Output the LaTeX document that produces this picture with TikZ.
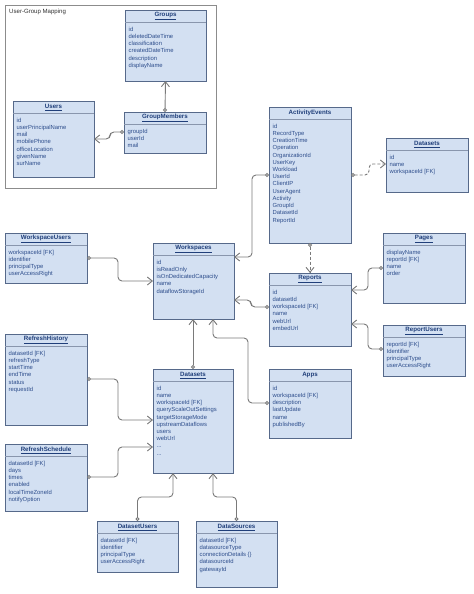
\documentclass[tikz,border=0pt]{standalone}
\usepackage{fontspec}
\setmainfont{Liberation Sans}
\usetikzlibrary{arrows.meta,shadows}
\definecolor{boxfill}{HTML}{D3E0F2}
\definecolor{boxline}{HTML}{56698A}
\definecolor{ttlblue}{HTML}{203F7A}
\definecolor{attrblue}{HTML}{2E4E8C}
\definecolor{linegray}{HTML}{7A7A7A}
\definecolor{framegray}{HTML}{8C8C8C}
\tikzset{
  ent/.style={draw=boxline, fill=boxfill, line width=0.75bp, anchor=north west, inner sep=0pt, outer sep=0pt,
    drop shadow={shadow xshift=1bp, shadow yshift=-1bp, fill=black!45, opacity=0.5}},
  sepline/.style={draw=boxline!70, line width=0.4bp},
  ttl/.style={inner sep=0pt, text=ttlblue, font=\fontsize{6.2}{7}\selectfont\bfseries},
  attr/.style={inner sep=0pt, anchor=north west, align=left, text=attrblue, font=\fontsize{5.9}{7.25}\selectfont},
  conn/.style={draw=linegray, line width=0.9bp, rounded corners=4bp,
    arrows={Circle[open,length=4bp,width=4bp]-Straight Barb[length=5bp,width=8bp]}},
  dconn/.style={conn, dash pattern=on 3bp off 2bp},
}
\newcommand\erbox[7]{%
  \node[ent, minimum width=#4bp, minimum height=#5bp] (#1) at (#2,#3) {};
  \draw[sepline] ([yshift=-12bp]#1.north west) -- ([yshift=-12bp]#1.north east);
  \node[ttl] (#1-t) at ([yshift=-6.2bp]#1.north) {#6};
  \node[attr] (#1-a) at ([xshift=3.5bp,yshift=-16bp]#1.north west) {\rule{0pt}{5bp}#7};
}
\begin{document}
\begin{tikzpicture}[x=1bp,y=-1bp]
\fill[white] (0,0) rectangle (474,594);
\useasboundingbox (0,0) rectangle (474,594);
% group frame
\node[draw=framegray, line width=0.6bp, anchor=north west, minimum width=211bp, minimum height=183bp, inner sep=0pt] (frame) at (5,5) {};
\node[anchor=west, inner sep=0pt, font=\fontsize{6.1}{7}\selectfont, text=black!80] (framelabel) at (9,12) {User-Group Mapping};
% entities
\erbox{Groups}{125}{10}{81}{71}{\underline{Groups}}{id\\deletedDateTime\\classification\\createdDateTime\\description\\displayName}
\erbox{Users}{13}{101}{81}{76}{\underline{Users}}{id\\userPrincipalName\\mail\\mobilePhone\\officeLocation\\givenName\\surName}
\erbox{GroupMembers}{124}{112}{82}{41}{\underline{GroupMembers}}{groupId\\userId\\mail}
\erbox{ActivityEvents}{269}{107}{82}{136}{ActivityEvents}{id\\RecordType\\CreationTime\\Operation\\OrganizationId\\UserKey\\Workload\\UserId\\ClientIP\\UserAgent\\Activity\\GroupId\\DatasetId\\ReportId}
\erbox{DatasetsR}{386}{138}{82}{54}{\underline{Datasets}}{id\\name\\workspaceId [FK]}
\erbox{WorkspaceUsers}{5}{233}{82}{50}{\underline{WorkspaceUsers}}{workspaceId [FK]\\identifier\\principalType\\userAccessRight}
\erbox{Workspaces}{153}{243}{81}{76}{\underline{Workspaces}}{id\\isReadOnly\\isOnDedicatedCapacity\\name\\dataflowStorageId}
\erbox{Pages}{383}{233}{82}{70}{\underline{Pages}}{displayName\\reportId [FK]\\name\\order}
\erbox{Reports}{269}{273}{82}{73}{\underline{Reports}}{id\\datasetId\\workspaceId [FK]\\name\\webUrl\\embedUrl}
\erbox{ReportUsers}{383}{325}{82}{51}{\underline{ReportUsers}}{reportId [FK]\\Identifier\\principalType\\userAccessRight}
\erbox{RefreshHistory}{5}{334}{82}{91}{\underline{RefreshHistory}}{datasetId [FK]\\refreshType\\startTime\\endTime\\status\\requestId}
\erbox{Datasets}{153}{369}{80}{104}{\underline{Datasets}}{id\\name\\workspaceId [FK]\\queryScaleOutSettings\\targetStorageMode\\upstreamDataflows\\users\\webUrl\\...\\...}
\erbox{Apps}{269}{369}{82}{69}{Apps}{id\\workspaceId [FK]\\description\\lastUpdate\\name\\publishedBy}
\erbox{RefreshSchedule}{5}{444}{82}{67}{\underline{RefreshSchedule}}{datasetId [FK]\\days\\times\\enabled\\localTimeZoneId\\notifyOption}
\erbox{DatasetUsers}{97}{521}{81}{51}{\underline{DatasetUsers}}{datasetId [FK]\\identifier\\principalType\\userAccessRight}
\erbox{DataSources}{196}{521}{81}{66}{\underline{DataSources}}{datasetId [FK]\\datasourceType\\connectionDetails \{\}\\datasourceId\\gatewayId}
% connectors
\draw[conn] (GroupMembers.north) -- (Groups.south);
\draw[conn] (GroupMembers.west |- 0,132) -- (110,132) -- (110,139) -- (Users.east |- 0,139);
\draw[conn] (ActivityEvents.west) -- (252,175) -- (252,257) -- (Workspaces.east |- 0,257);
\draw[dconn] (ActivityEvents.east) -- (369,175) -- (369,164) -- (DatasetsR.west |- 0,164);
\draw[dconn] (ActivityEvents.south) -- (Reports.north);
\draw[conn] (Reports.west |- 0,307) -- (251,307) -- (251,300) -- (Workspaces.east |- 0,300);
\draw[conn] (Pages.west |- 0,268) -- (368,268) -- (368,290) -- (Reports.east |- 0,290);
\draw[conn] (ReportUsers.west |- 0,349) -- (368,349) -- (368,324) -- (Reports.east |- 0,324);
\draw[conn] (WorkspaceUsers.east |- 0,258) -- (118,258) -- (118,281) -- (Workspaces.west |- 0,281);
\draw[conn] (RefreshHistory.east |- 0,379) -- (118,379) -- (118,420) -- (Datasets.west |- 0,420);
\draw[conn] (RefreshSchedule.east |- 0,477) -- (118,477) -- (118,447) -- (Datasets.west |- 0,447);
\draw[conn] (Datasets.north) -- (Workspaces.south -| Datasets.north);
\draw[conn] (Apps.west |- 0,403) -- (248,403) -- (248,338) -- (213,338) -- (Workspaces.south -| 213,0);
\draw[conn] (DatasetUsers.north) -- (DatasetUsers.north |- 0,497) -- (173,497) -- (Datasets.south -| 173,0);
\draw[conn] (DataSources.north) -- (DataSources.north |- 0,497) -- (213,497) -- (Datasets.south -| 213,0);
\end{tikzpicture}
\end{document}
